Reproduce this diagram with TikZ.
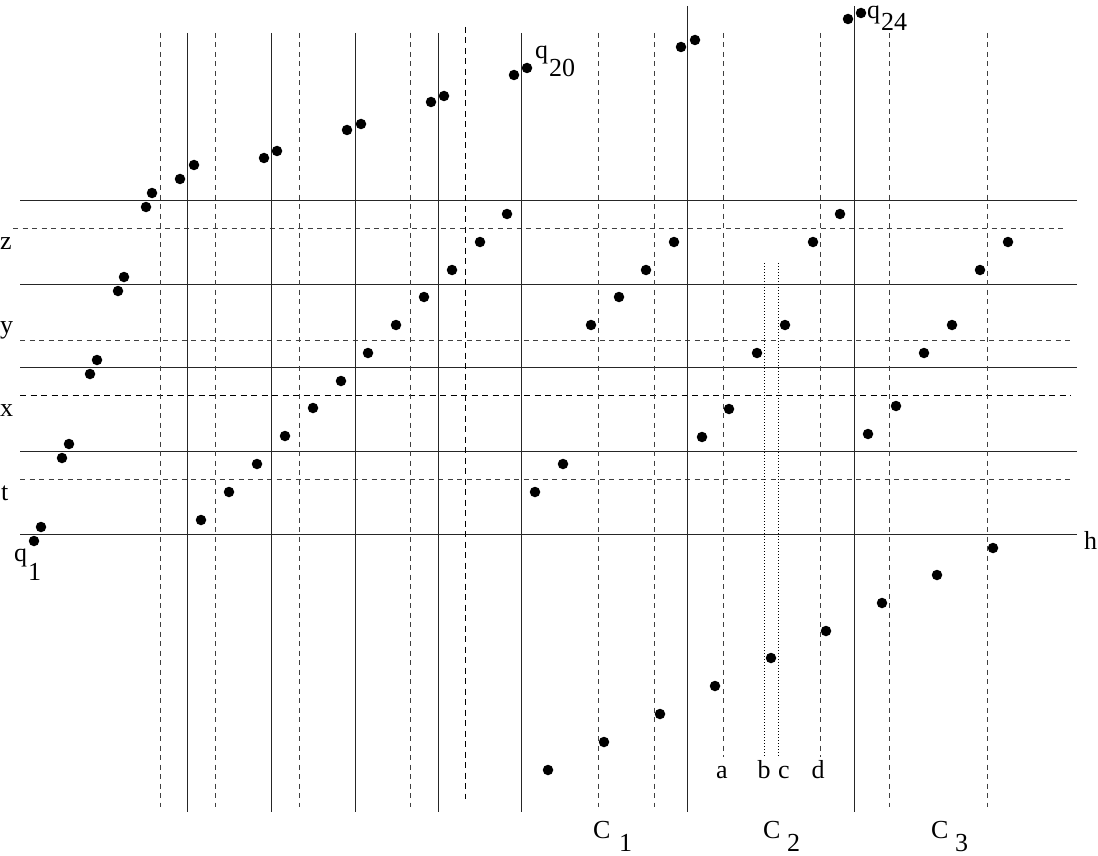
\documentclass[tikz,border=0pt]{standalone}
\usepackage{fontspec}
\setmainfont{Liberation Serif}
\begin{document}
\begin{tikzpicture}[x=1pt,y=-1pt,
 solidln/.style={line width=0.9pt, black!85},
 dashln/.style={line width=0.9pt, black!75, dash pattern=on 5pt off 4.5pt},
 dashdk/.style={line width=0.9pt, black, dash pattern=on 6pt off 4.5pt},
 dotln/.style={line width=0.7pt, black, dash pattern=on 1pt off 2pt},
 pt/.style={circle, fill=black, draw=none, inner sep=0pt, minimum size=10.5pt},
 lbl/.style={inner sep=0pt, anchor=base west, font=\fontsize{26}{30}\selectfont},
 clbl/.style={inner sep=0pt, anchor=base, font=\fontsize{26}{30}\selectfont},
]
\useasboundingbox (0,0) rectangle (1098,856);

% horizontal lines
\foreach \yy in {200,284,367,451,534} \draw[solidln] (20,\yy) -- (1077,\yy);
\draw[dashln] (13,228) -- (1065,228);
\draw[dashln] (20,340) -- (1071,340);
\draw[dashdk] (20,395) -- (1071,395);
\draw[dashln] (20,479) -- (1071,479);

% vertical solid lines
\foreach \xx in {187,271,355,438,521} \draw[solidln] (\xx,33) -- (\xx,812);
\foreach \xx in {687,854} \draw[solidln] (\xx,6) -- (\xx,812);
% vertical dashed lines
\foreach \xx in {160,215,299,410,598,654,889,987} \draw[dashln] (\xx,33) -- (\xx,807);
\draw[dashdk] (465,27) -- (465,799);
\foreach \xx in {723,820} \draw[dashln] (\xx,33) -- (\xx,757);
% dotted lines
\foreach \xx in {764,778} \draw[dotln] (\xx,263) -- (\xx,757);

% points
\foreach \p [count=\i] in {(34,541),(41,527),(62,458),(69,444),(90,374),(97,360),(118,291),(124,277),(146,207),(152,193),(180,179),(194,165),(264,158),(277,151),(347,130),(361,124),(431,102),(444,96),(514,75),(527,68),(681,47),(695,40),(848,19),(861,13)}
  \node[pt] (q\i) at \p {};
\foreach \p [count=\i] in {(201,520),(229,492),(257,464),(285,436),(313,408),(341,381),(368,353),(396,325),(424,297),(452,270),(480,242),(507,214)}
  \node[pt] (b\i) at \p {};
\foreach \p [count=\i] in {(535,492),(563,464),(591,325),(619,297),(646,270),(674,242),(702,437),(729,409),(757,353),(785,325),(813,242),(840,214),(868,434),(896,406),(924,353),(952,325),(980,270),(1008,242)}
  \node[pt] (c\i) at \p {};
\foreach \p [count=\i] in {(548,770),(604,742),(660,714),(715,686),(771,658),(826,631),(882,603),(937,575),(993,548)}
  \node[pt] (d\i) at \p {};

% axis labels
\node[lbl] (lz) at (0,249) {z};
\node[lbl] (ly) at (0,333) {y};
\node[lbl] (lx) at (0,416) {x};
\node[lbl] (lt) at (1,500) {t};
\node[lbl] (lh) at (1084,549) {h};

% point labels
\node[lbl] (lq1) at (14,561) {q};
\node[lbl] (lq1s) at (28,580) {1};
\node[lbl] (lq20) at (535,59) {q};
\node[lbl] (lq20s) at (549,77) {20};
\node[lbl] (lq24) at (867,19) {q};
\node[lbl] (lq24s) at (881,31) {24};

% line labels
\node[clbl] (la) at (722,778) {a};
\node[clbl] (lb) at (764,778) {b};
\node[clbl] (lc) at (784,778) {c};
\node[clbl] (ld) at (818,778) {d};

% cluster labels
\node[lbl] (lC1) at (593,838) {C};
\node[lbl] (lC1s) at (619,851) {1};
\node[lbl] (lC2) at (763,838) {C};
\node[lbl] (lC2s) at (787,851) {2};
\node[lbl] (lC3) at (931,838) {C};
\node[lbl] (lC3s) at (955,851) {3};
\end{tikzpicture}
\end{document}
